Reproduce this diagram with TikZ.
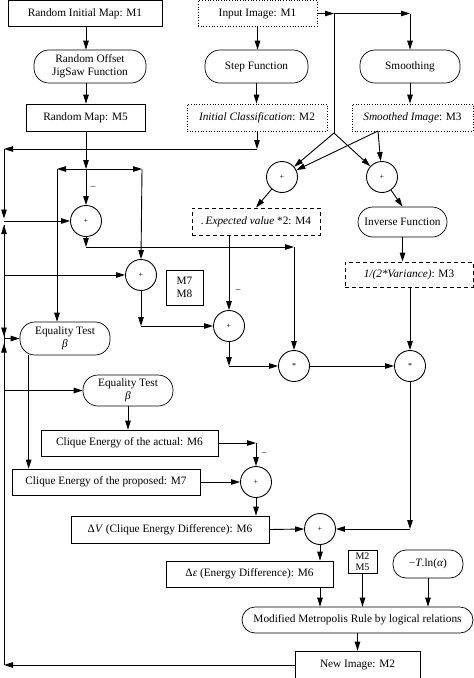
\documentclass[tikz,border=0pt]{standalone}
\usepackage{fontspec}
\setmainfont{Liberation Serif}
\usetikzlibrary{arrows.meta,calc}
\begin{document}
\begin{tikzpicture}[x=1pt,y=-1pt, font=\fontsize{11.3}{13}\selectfont,
  box/.style={draw, line width=0.7pt, inner sep=0pt, align=center},
  pill/.style={box, rounded corners=15pt},
  dotbox/.style={box, dotted, line width=0.8pt},
  dashbox/.style={box, dash pattern=on 4pt off 3pt, line width=0.9pt},
  op/.style={draw, circle, line width=0.9pt, minimum size=31pt, inner sep=0pt, font=\fontsize{8}{9}\selectfont},
  arr/.style={-{Triangle[length=9pt,width=5.5pt]}, line width=0.9pt},
  ln/.style={line width=0.9pt},
  minus/.style={font=\fontsize{10}{10}\selectfont, inner sep=0pt}]
\useasboundingbox (0,0) rectangle (474,678);
\clip (0,0) rectangle (474,678);

% ---- boxes
\node[box, minimum width=154pt, minimum height=26pt] (RIM) at (85,13.5) {Random Initial Map: M1};
\node[dotbox, minimum width=119pt, minimum height=26pt] (II) at (257.5,13.5) {Input Image: M1};
\node[pill, minimum width=112pt, minimum height=33pt] (RO) at (90,66.5) {Random Offset\\JigSaw Function};
\node[pill, minimum width=103pt, minimum height=33pt] (SF) at (256.5,66.5) {Step Function};
\node[pill, minimum width=100pt, minimum height=33pt] (SM) at (410,66.5) {Smoothing};
\node[box, minimum width=119pt, minimum height=27pt] (RM) at (85.5,117.5) {Random Map: M5};
\node[dotbox, minimum width=140pt, minimum height=27pt] (IC) at (257,117.5) {\textit{Initial Classification}: M2};
\node[dotbox, minimum width=121pt, minimum height=27pt] (SI) at (412.5,117.5) {\textit{Smoothed Image}: M3};

\node[op] (P1) at (282,177) {+};
\node[op] (P2) at (382,177) {+};
\node[dashbox, minimum width=128pt, minimum height=27pt] (EV) at (256,221.5) {.\,\textit{Expected value} *2: M4};
\node[pill, minimum width=89pt, minimum height=30pt] (IF) at (402.5,222) {Inverse Function};
\node[dashbox, minimum width=128pt, minimum height=25pt] (VAR) at (409,274.5) {\textit{1/(2*Variance)}: M3};

\node[op] (PA) at (86,221) {+};
\node[op] (PB) at (141,275) {+};
\node[box, minimum width=37pt, minimum height=35pt] (M78) at (184.5,287.5) {M7\\M8};
\node[op] (PC) at (229,326) {+};
\node[op] (ST1) at (294,366) {*};
\node[op] (ST2) at (410,366) {*};

\node[pill, minimum width=90pt, minimum height=33pt] (ET1) at (65,338.5) {Equality Test\\\textit{β}};
\node[pill, minimum width=90pt, minimum height=31pt] (ET2) at (128,390.5) {Equality Test\\\textit{β}};
\node[box, minimum width=177pt, minimum height=26pt] (CA) at (129.5,443) {Clique Energy of the actual: M6};
\node[box, minimum width=188pt, minimum height=26pt] (CP) at (106,482) {Clique Energy of the proposed: M7};
\node[op] (PE) at (256,482) {+};
\node[box, minimum width=198pt, minimum height=27pt] (AV) at (170,529.5) {Δ\textit{V} (Clique Energy Difference): M6};
\node[op] (PD) at (320,529) {+};
\node[box, minimum width=167pt, minimum height=26pt] (DE) at (249.5,574) {Δ\textit{ε} (Energy Difference): M6};
\node[box, minimum width=29pt, minimum height=23pt, font=\fontsize{10}{11}\selectfont] (M25) at (362.5,561.5) {M2\\M5};
\node[pill, minimum width=70pt, minimum height=28pt, rounded corners=13pt] (TLN) at (428,564) {−\textit{T}.ln(\textit{α})};
\node[pill, minimum width=231pt, minimum height=26pt, rounded corners=13pt] (MMR) at (357.5,620) {Modified Metropolis Rule by logical relations};
\node[box, minimum width=125pt, minimum height=28pt] (NI) at (357.5,665) {New Image: M2};

% ---- coordinates
\coordinate (J0) at (334,13.5);
\coordinate (J2) at (334,133);
\coordinate (S) at (378,131);
\coordinate (J1) at (86,169);
\coordinate (JL) at (57,169);
\coordinate (JR) at (142,169);
\coordinate (K1) at (86,247);
\coordinate (K2) at (294,247);
\coordinate (TL) at (4,149);
\coordinate (TB) at (4,665);
\coordinate (ICb) at (257,149);

% ---- top connectors
\draw[arr] (RIM.south -| J1) -- (J1 |- RO.north);
\draw[arr] (J1 |- RO.south) -- (J1 |- RM.north);
\draw[arr] (II.south) -- (II.south |- SF.north);
\draw[arr] (SF.south) -- (SF.south |- IC.north);
\draw[arr] (SM.south) -- (SM.south |- SI.north);
\draw[arr] (II.east) -- (J0);
\draw[arr] (J0) -- (J0 -| SM);
\draw[arr] (J0 -| SM) -- (SM.north);
\draw[ln] (J0) -- (J2);
\draw[arr] (J2) -- (P1);
\draw[arr] (J2) -- (P2);
\draw[arr] (S) -- (P1);
\draw[arr] (S) -- (P2);
\draw[arr] (P1) -- (EV.north);
\draw[arr] (P2) -- (IF.north);
\draw[arr] (IF.south) -- (IF.south |- VAR.north);
\draw[arr] (ST2 |- VAR.south) -- (ST2.north);

% ---- initial classification to trunk
\draw[arr] (IC.south -| ICb) -- (ICb);
\draw[arr] (ICb) -- (TL);

% ---- random map branch
\draw[arr] (J1 |- RM.south) -- (J1);
\draw[arr] (J1) -- (JL);
\draw[arr] (J1) -- (JR);
\draw[arr] (JL) -- (JL |- ET1.north);
\draw[arr] (JR) -- (PB.north);
\draw[arr] (J1) -- (PA.north) node[minus, pos=0.55, right=4pt] {−};

% ---- trunk
\draw[arr] (TL) -- (4,218.5);
\draw[arr] (TB) -- (4,225);
\draw[arr] (4,225) -- (4,336.5);
\draw[arr] (TB) -- (4,343.5);
\draw[arr] (PA.west -| TL) -- (PA.west);
\draw[arr] (PB.west -| TL) -- (PB.west);
\draw[arr] (ET1.west -| TL) -- (ET1.west);
\draw[arr] (ET2.west -| TL) -- (ET2.west);
\draw[arr] (NI.west) -- (TB);

% ---- middle
\draw[arr] (PA.south) -- (K1);
\draw[arr] (K1) -- (K2);
\draw[arr] (K2) -- (ST1.north);
\draw[arr] (EV.south -| PC) -- (PC.north) node[minus, pos=0.75, right=6pt] {−};
\draw[arr] (PB.south) -- (PB |- PC);
\draw[arr] (PB |- PC) -- (PC.west);
\draw[arr] (PC.south) -- (PC |- ST1);
\draw[arr] (PC |- ST1) -- (ST1.west);
\draw[arr] (ST1.east) -- (ST2.west);
\draw[arr] (ST2.south) -- (ST2 |- PD);
\draw[arr] (ST2 |- PD) -- (PD.east);

% ---- lower
\draw[arr] (ET2.south) -- (ET2.south |- CA.north);
\coordinate (E1b) at ([xshift=9pt]ET1.south west);
\draw[arr] (E1b) -- (E1b |- CP.north);
\draw[arr] (CA.east) -- (PE |- CA);
\draw[arr] (PE |- CA) -- (PE.north) node[minus, pos=0.5, right=5pt] {−};
\draw[arr] (CP.east) -- (PE.west);
\draw[arr] (PE.south) -- (PE.south |- AV.north);
\draw[arr] (AV.east) -- (PD.west);
\draw[arr] (PD.south) -- (PD.south |- DE.north);
\draw[arr] (PD.south |- DE.south) -- (PD.south |- MMR.north);
\draw[arr] (M25.south) -- (M25.south |- MMR.north);
\draw[arr] (TLN.south) -- (TLN.south |- MMR.north);
\draw[arr] (MMR.south) -- (MMR.south |- NI.north);
\end{tikzpicture}
\end{document}
